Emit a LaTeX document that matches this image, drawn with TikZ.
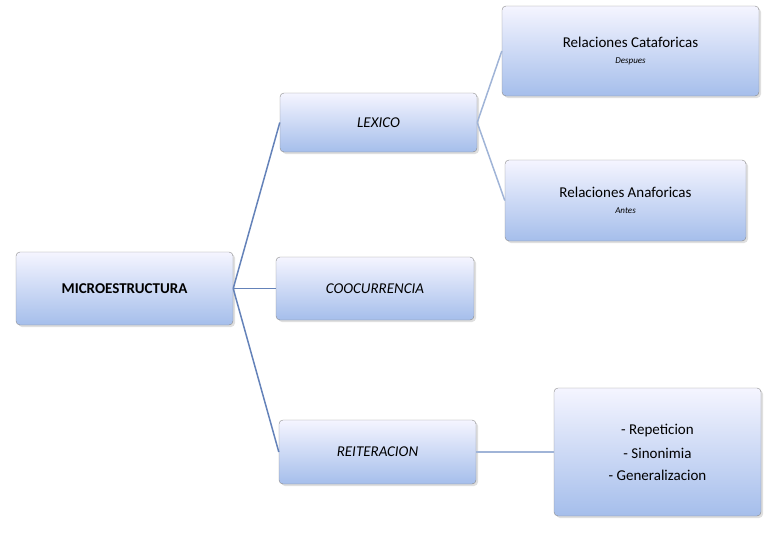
\documentclass[tikz,border=0pt]{standalone}
\usepackage{fontspec}
\setmainfont{Carlito}
\usetikzlibrary{shadows}
\begin{document}
\begin{tikzpicture}[x=1pt,y=-1pt,
  box/.style={draw=black!45,rounded corners=4pt,top color=blue!4,bottom color={rgb,255:red,165;green,190;blue,235},drop shadow={opacity=0.25,shadow xshift=2pt,shadow yshift=-2pt},align=center,inner sep=0pt},
  main/.style={draw={rgb,255:red,100;green,130;blue,185},line width=1.5pt},
  sub/.style={draw={rgb,255:red,160;green,180;blue,215},line width=1.5pt}]
\useasboundingbox (0,0) rectangle (775,536);
\node[box,minimum width=217pt,minimum height=73pt] (m) at (124.5,288.5) {\fontsize{15}{18}\selectfont\bfseries MICROESTRUCTURA};
\node[box,minimum width=197pt,minimum height=59pt] (l) at (378.5,122.5) {\fontsize{15}{18}\selectfont\itshape LEXICO};
\node[box,minimum width=198pt,minimum height=63pt] (c) at (375,288.5) {\fontsize{15}{18}\selectfont\itshape COOCURRENCIA};
\node[box,minimum width=197pt,minimum height=64pt] (r) at (377.5,452) {\fontsize{15}{18}\selectfont\itshape REITERACION};
\node[box,minimum width=257pt,minimum height=90pt] (ca) at (630.5,51) {\fontsize{15}{18}\selectfont Relaciones Cataforicas\\[4pt]\fontsize{9}{11}\selectfont\itshape Despues};
\node[box,minimum width=241pt,minimum height=81pt] (an) at (625.5,200.5) {\fontsize{15}{18}\selectfont Relaciones Anaforicas\\[4pt]\fontsize{9}{11}\selectfont\itshape Antes};
\node[box,minimum width=207pt,minimum height=128pt] (li) at (657.5,452) {\fontsize{15}{18}\selectfont - Repeticion\\[10pt]\fontsize{15}{18}\selectfont - Sinonimia\\[10pt]\fontsize{15}{18}\selectfont - Generalizacion};
\draw[main] (m.east) -- (l.west);
\draw[main] (m.east) -- (c.west);
\draw[main] (m.east) -- (r.west);
\draw[sub] (l.east) -- (ca.west);
\draw[sub] (l.east) -- (an.west);
\draw[sub] (r.east) -- (li.west);
\end{tikzpicture}
\end{document}
